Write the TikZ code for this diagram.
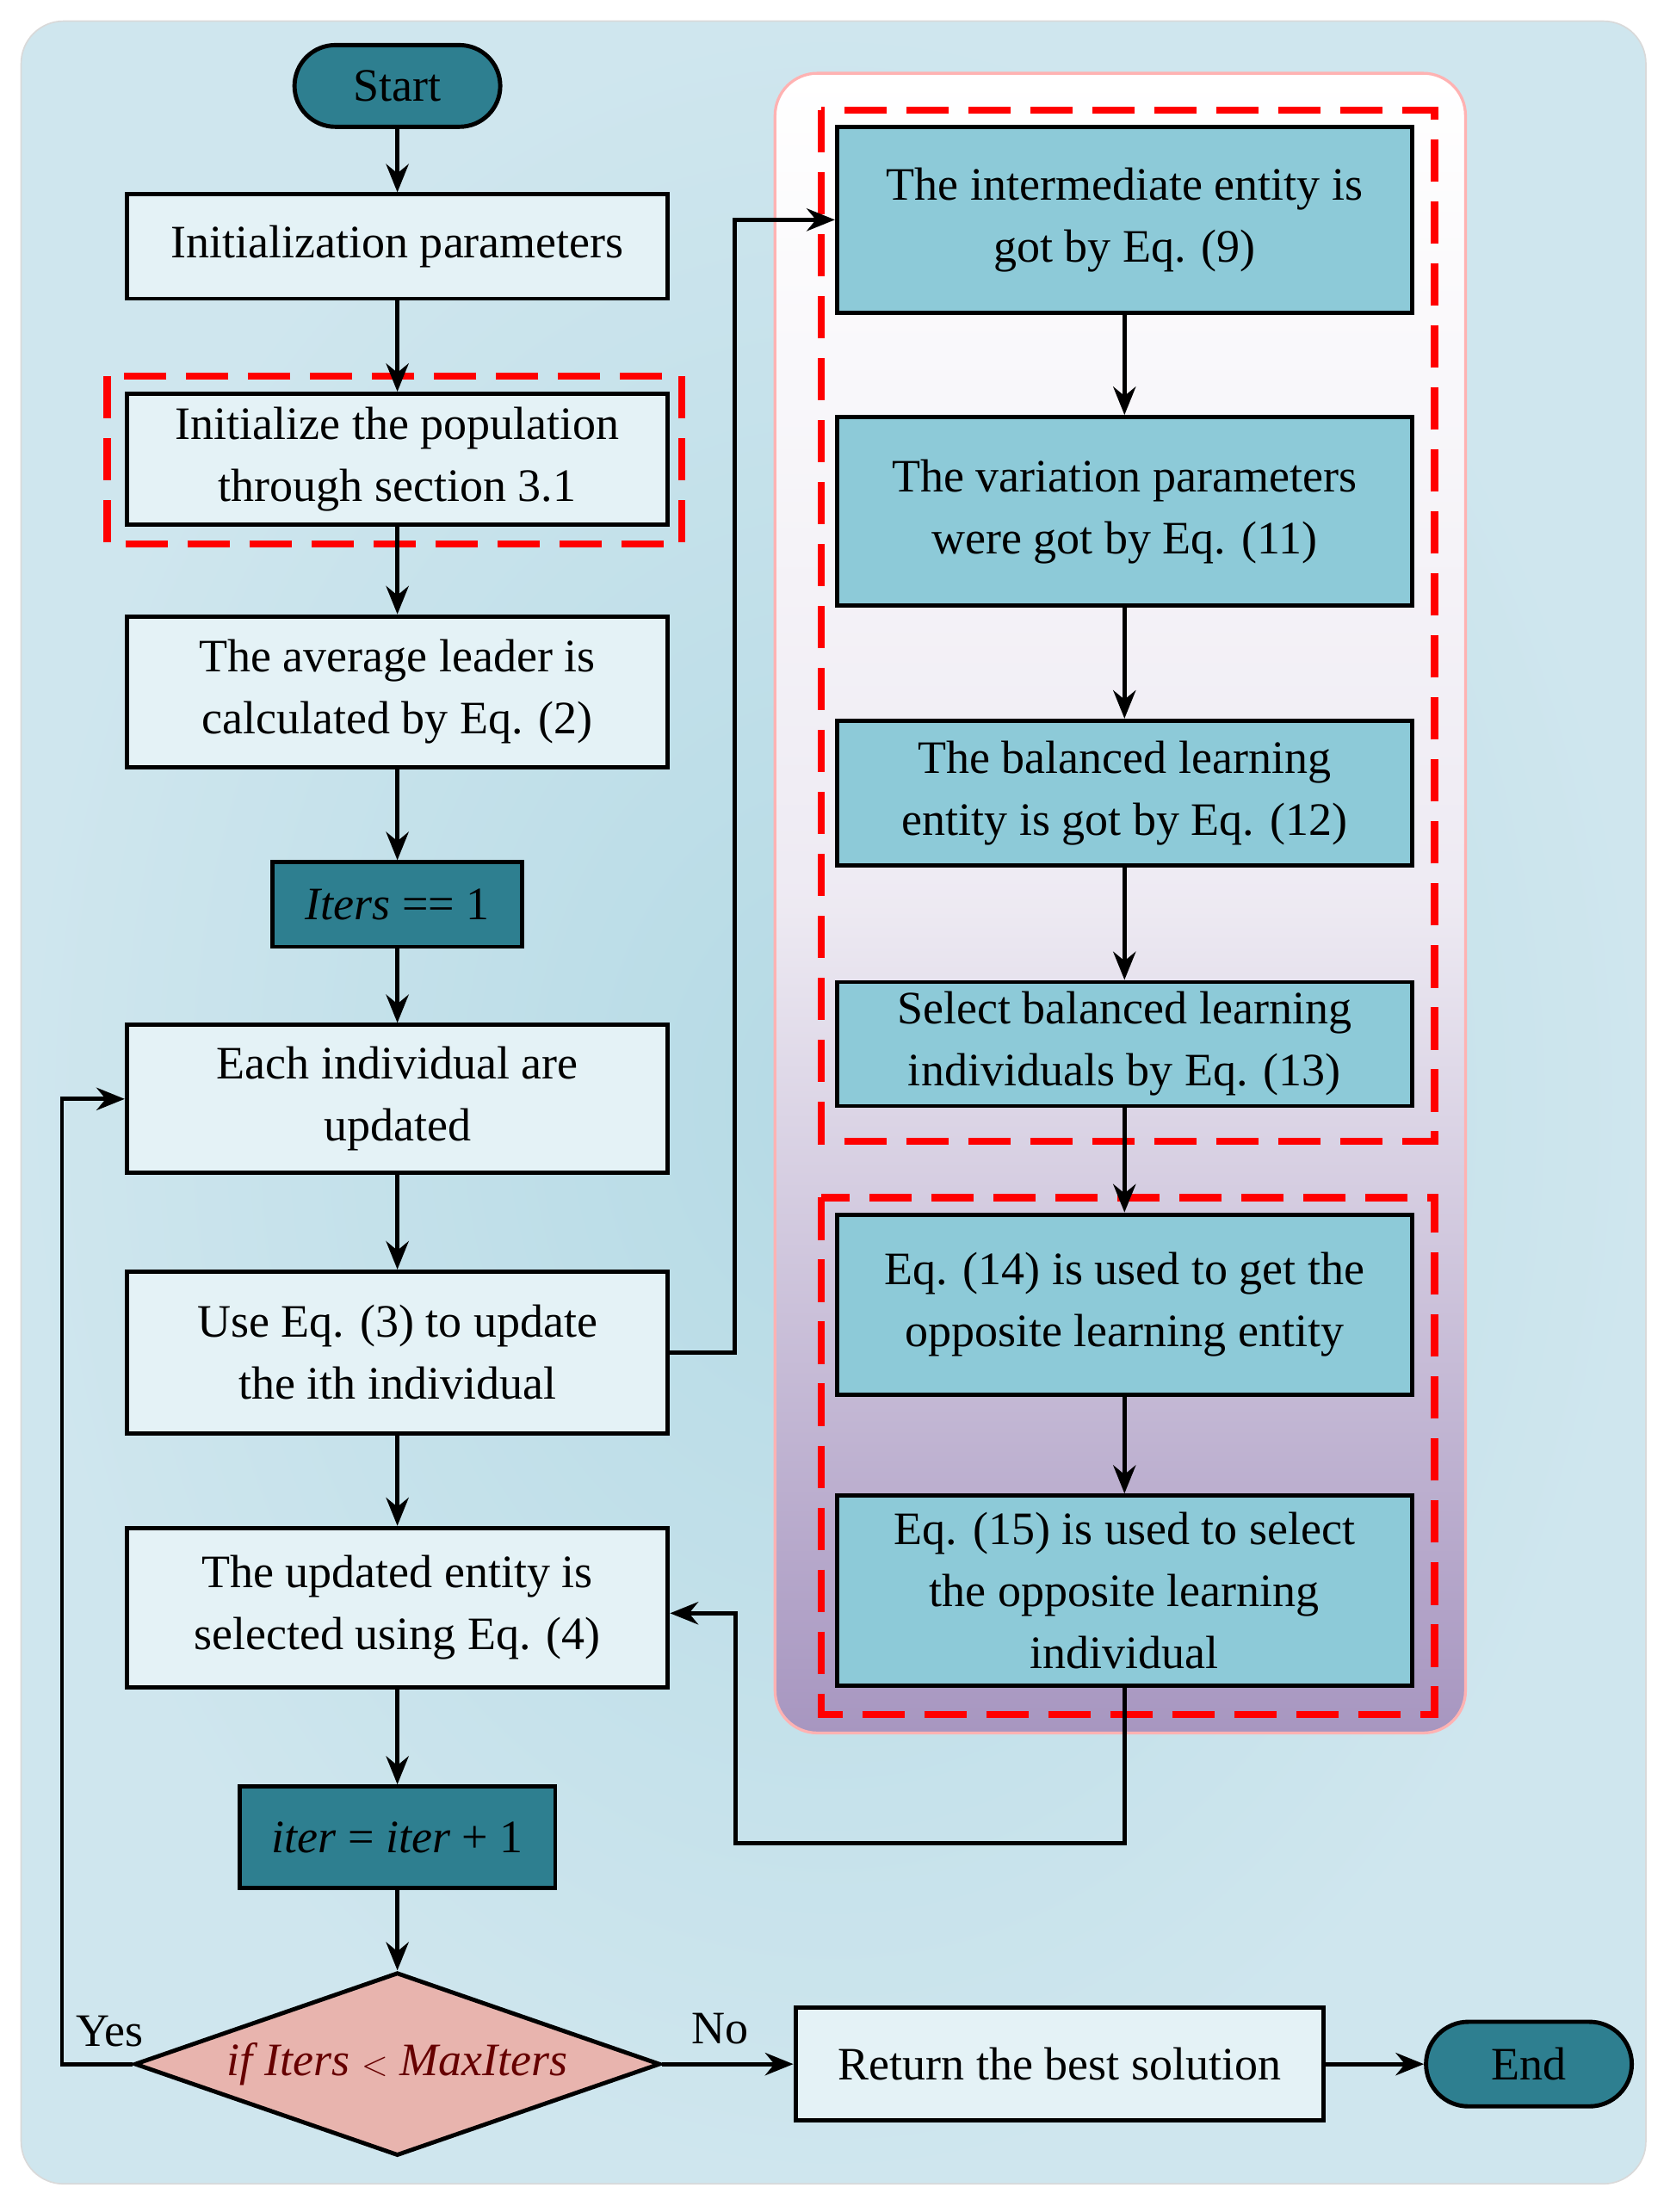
\documentclass[tikz,border=0pt]{standalone}
\usepackage{fontspec}
\setmainfont{Liberation Serif}
\usetikzlibrary{arrows.meta,shapes.geometric}
\definecolor{bgb}{HTML}{CFE6EE}
\definecolor{bgc}{HTML}{B5DAE5}
\definecolor{lbox}{HTML}{E4F2F6}
\definecolor{dteal}{HTML}{2E7F90}
\definecolor{rbox}{HTML}{8DCAD8}
\definecolor{purp}{HTML}{A796C0}
\definecolor{diam}{HTML}{E8B4AE}
\begin{document}
\begin{tikzpicture}[x=1pt,y=-1pt,
  box/.style={draw=black,line width=3pt,fill=lbox,font=\fontsize{33}{44}\selectfont,align=center,inner sep=0pt},
  rb/.style={box,fill=rbox},
  db/.style={box,fill=dteal},
  red/.style={draw=red,line width=5pt,dash pattern=on 30pt off 14pt},
  arr/.style={line width=3pt,-{Stealth[length=20pt,width=16pt]}},
  lbl/.style={font=\fontsize{33}{36}\selectfont}]
\useasboundingbox (0,0) rectangle (1185,1570);
\fill[white] (0,0) rectangle (1185,1570);
\shade[inner color=bgc,outer color=bgb,rounded corners=30pt,draw=black!15,line width=1pt] (15,15) rectangle (1168,1550);
\shade[top color=white,bottom color=purp,middle color=white!80!purp,rounded corners=30pt,draw=red!30,line width=2pt] (550,52) rectangle (1040,1230);
% left column
\node[box,fill=dteal,rounded corners=29pt,minimum width=146pt,minimum height=58pt] (start) at (282,61) {Start};
\node[box,minimum width=384pt,minimum height=74pt] (ip) at (282,175) {Initialization parameters};
\node[box,minimum width=384pt,minimum height=93pt] (pop) at (282,326) {Initialize the population\\through section 3.1};
\node[box,minimum width=384pt,minimum height=107pt] (avg) at (282,491) {The average leader is\\calculated by Eq. (2)};
\node[db,minimum width=177pt,minimum height=60pt] (it1) at (282,642) {\textit{Iters} == 1};
\node[box,minimum width=384pt,minimum height=105pt] (each) at (282,780) {Each individual are\\updated};
\node[box,minimum width=384pt,minimum height=115pt] (use) at (282,960) {Use Eq. (3) to update\\the ith individual};
\node[box,minimum width=384pt,minimum height=113pt] (upd) at (282,1141) {The updated entity is\\selected using Eq. (4)};
\node[db,minimum width=224pt,minimum height=72pt] (inc) at (282,1304) {\textit{iter} = \textit{iter} + 1};
\node[diamond,aspect=2.87,draw=black,line width=3pt,fill=diam,inner sep=0pt,minimum width=373pt,minimum height=130pt,font=\fontsize{33}{36}\selectfont\itshape,text=black!60!red] (dia) at (282,1465) {if Iters $<$ MaxIters};
\node[box,minimum width=375pt,minimum height=80pt] (ret) at (752,1465) {Return the best solution};
\node[box,fill=dteal,rounded corners=30pt,minimum width=146pt,minimum height=60pt] (end) at (1085,1465) {End};
% right column
\node[rb,minimum width=408pt,minimum height=132pt] (r1) at (798,156) {The intermediate entity is\\got by Eq. (9)};
\node[rb,minimum width=408pt,minimum height=134pt] (r2) at (798,363) {The variation parameters\\were got by Eq. (11)};
\node[rb,minimum width=408pt,minimum height=103pt] (r3) at (798,563) {The balanced learning\\entity is got by Eq. (12)};
\node[rb,minimum width=408pt,minimum height=88pt] (r4) at (798,741) {Select balanced learning\\individuals by Eq. (13)};
\node[rb,minimum width=408pt,minimum height=128pt] (r5) at (798,926) {Eq. (14) is used to get the\\opposite learning entity};
\node[rb,minimum width=408pt,minimum height=135pt] (r6) at (798,1129) {Eq. (15) is used to select\\the opposite learning\\individual};
% red dashed groups
\draw[red] (76,267) rectangle (484,386);
\draw[red] (583,78) rectangle (1018,810);
\draw[red] (583,850) rectangle (1018,1217);
% arrows
\draw[arr] (start) -- (ip);
\draw[arr] (ip) -- (pop);
\draw[arr] (pop) -- (avg);
\draw[arr] (avg) -- (it1);
\draw[arr] (it1) -- (each);
\draw[arr] (each) -- (use);
\draw[arr] (use) -- (upd);
\draw[arr] (upd) -- (inc);
\draw[arr] (inc) -- (dia);
\draw[arr] (r1) -- (r2);
\draw[arr] (r2) -- (r3);
\draw[arr] (r3) -- (r4);
\draw[arr] (r4) -- (r5);
\draw[arr] (r5) -- (r6);
\draw[arr] (use.east) -- ++(46,0) |- (r1.west);
\coordinate (c1) at (798,1308);
\draw[arr] (r6.south) -- (c1) -| (522,1145) -- (upd.east |- 0,1145);
\draw[arr] (dia.west) -- (44,1465) |- (each.west);
\draw[arr] (dia.east) -- (ret.west);
\node[lbl] (no) at (511,1440) {No};
\draw[arr] (ret) -- (end);
\node[lbl] (yes) at (78,1442) {Yes};
\end{tikzpicture}
\end{document}
